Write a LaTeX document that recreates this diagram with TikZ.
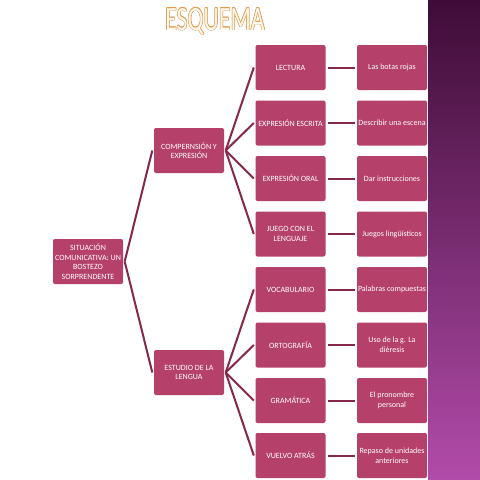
\documentclass[tikz,border=0pt]{standalone}
\usepackage{fontspec}
\setmainfont{Carlito}
\hyphenpenalty=10000
\exhyphenpenalty=10000
\definecolor{boxc}{HTML}{B5406A}
\definecolor{linec}{HTML}{85284C}
\definecolor{bartop}{HTML}{3E0C36}
\definecolor{barmid}{HTML}{7E2A72}
\definecolor{barbot}{HTML}{B24CAA}
\definecolor{ttlo}{HTML}{E39A4C}
\definecolor{ttlf}{HTML}{FFF8EC}
\begin{document}
\begin{tikzpicture}[x=1pt,y=-1pt,
 box/.style={fill=boxc, rounded corners=2pt, minimum width=70pt, minimum height=45pt, align=center, inner sep=0.5pt, text=white, font=\fontsize{8}{9.6}\selectfont},
 conn/.style={draw=linec, line width=2pt},
 ttl/.style={font=\fontsize{34}{34}\selectfont, xscale=0.7, inner sep=0pt}]
\useasboundingbox (0,0) rectangle (480,480);
\fill[white] (0,0) rectangle (480,480);
\shade[top color=bartop, middle color=barmid, bottom color=barbot] (428,0) rectangle (480,480);
% title
\foreach \dx/\dy in {-0.5/0,0.5/0,0/-0.5,0/0.5,-0.35/-0.35,0.35/0.35,-0.35/0.35,0.35/-0.35}
  \node[ttl, text=ttlo] at (215+\dx,21.5+\dy) {ESQUEMA};
\node[ttl, text=ttlf] (title) at (215,21.5) {ESQUEMA};
% nodes
\node[box] (root) at (88,261.5) {SITUACIÓN\\COMUNICATIVA: UN\\BOSTEZO\\SORPRENDENTE};
\node[box] (c1) at (189,150.5) {COMPERNSIÓN Y\\EXPRESIÓN};
\node[box] (c2) at (189,372.5) {ESTUDIO DE LA\\LENGUA};
\node[box] (a1) at (290.5,67.5) {LECTURA};
\node[box] (a2) at (290.5,123) {EXPRESIÓN ESCRITA};
\node[box] (a3) at (290.5,178.5) {EXPRESIÓN ORAL};
\node[box] (a4) at (290.5,234) {JUEGO CON EL\\LENGUAJE};
\node[box] (a5) at (290.5,289.5) {VOCABULARIO};
\node[box] (a6) at (290.5,345) {ORTOGRAFÍA};
\node[box] (a7) at (290.5,400.5) {GRAMÁTICA};
\node[box] (a8) at (290.5,455.5) {VUELVO ATRÁS};
\node[box] (b1) at (392,67.5) {Las botas rojas};
\node[box] (b2) at (392,123) {Describir una escena};
\node[box] (b3) at (392,178.5) {Dar instrucciones};
\node[box] (b4) at (392,234) {Juegos lingüísticos};
\node[box] (b5) at (392,289.5) {Palabras compuestas};
\node[box] (b6) at (392,345) {Uso de la g. La\\diéresis};
\node[box] (b7) at (392,400.5) {El pronombre\\personal};
\node[box] (b8) at (392,455.5) {Repaso de unidades\\anteriores};
% connectors
\draw[conn] ([xshift=1.5pt]root.east) -- ([xshift=-1.5pt]c1.west);
\draw[conn] ([xshift=1.5pt]root.east) -- ([xshift=-1.5pt]c2.west);
\foreach \i in {1,2,3,4}
  \draw[conn] ([xshift=1.5pt]c1.east) -- ([xshift=-1.5pt]a\i.west);
\foreach \i in {5,6,7,8}
  \draw[conn] ([xshift=1.5pt]c2.east) -- ([xshift=-1.5pt]a\i.west);
\foreach \i in {1,...,8}
  \draw[conn] ([xshift=2pt]a\i.east) -- ([xshift=-2pt]b\i.west);
\end{tikzpicture}
\end{document}
